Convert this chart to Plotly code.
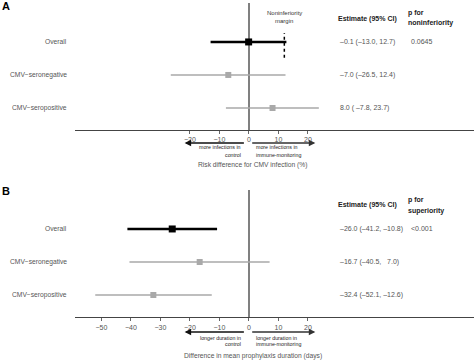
import plotly.graph_objects as go

# ---------------- data ----------------
rows = ["Overall", "CMV\u2212seronegative", "CMV\u2212seropositive"]
row_pos = [3, 2, 1]

a_est = [-0.1, -7.0, 8.0]
a_lo = [-13.0, -26.5, -7.8]
a_hi = [12.7, 12.4, 23.7]
a_text = ["\u20130.1 (\u201313.0, 12.7)", "\u20137.0 (\u201326.5, 12.4)", "8.0 ( \u20137.8, 23.7)"]
a_p = ["0.0645", "", ""]
a_ticks = [-20, -10, 0, 10, 20]
ni_margin = 12.0

b_est = [-26.0, -16.7, -32.4]
b_lo = [-41.2, -40.5, -52.1]
b_hi = [-10.8, 7.0, -12.6]
b_text = ["\u201326.0 (\u201341.2, \u201310.8)", "\u201316.7 (\u201340.5,   7.0)", "\u201332.4 (\u201352.1, \u201312.6)"]
b_p = ["<0.001", "", ""]
b_ticks = [-50, -40, -30, -20, -10, 0, 10, 20]

FONT = "Liberation Sans, Arial, sans-serif"
GRAY = "#a9a9a9"
TXT = "#555555"

fig = go.Figure()

def add_panel(xa, ya, est, lo, hi):
    for i in range(len(est)):
        col = "black" if i == 0 else GRAY
        w = 2.5 if i == 0 else 1.6
        fig.add_trace(go.Scatter(x=[lo[i], hi[i]], y=[row_pos[i], row_pos[i]], mode="lines",
                                 line=dict(color=col, width=w), xaxis=xa, yaxis=ya,
                                 showlegend=False, hoverinfo="skip"))
        fig.add_trace(go.Scatter(x=[est[i]], y=[row_pos[i]], mode="markers",
                                 marker=dict(symbol="square", size=7 if i == 0 else 6, color=col),
                                 xaxis=xa, yaxis=ya, showlegend=False))

add_panel("x", "y", a_est, a_lo, a_hi)
add_panel("x2", "y2", b_est, b_lo, b_hi)

xrange = [-59, 76.3]
axis_common = dict(range=xrange, domain=[0.158, 1.0], showgrid=False, zeroline=True,
                   zerolinecolor="#808080", zerolinewidth=1.5, showline=True,
                   linecolor="#444444", linewidth=1.2, ticks="outside", ticklen=3,
                   tickcolor="#666666", tickfont=dict(size=7, color=TXT, family=FONT))
fig.update_layout(
    xaxis=dict(axis_common, tickvals=a_ticks, anchor="y"),
    xaxis2=dict(axis_common, tickvals=b_ticks, anchor="y2"),
    yaxis=dict(domain=[0.6389, 0.9917], range=[0.333, 4.18], visible=False),
    yaxis2=dict(domain=[0.1194, 0.4722], range=[0.333, 4.18], visible=False),
)

# noninferiority margin
fig.add_shape(type="line", xref="x", yref="y", x0=ni_margin, x1=ni_margin, y0=2.52, y1=3.27,
              line=dict(color="black", width=1.5, dash="3px,3px"))

ann = []
def txt(x, y, s, size=7, xanchor="left", xref="paper", yref="paper", bold=False, color=TXT):
    ann.append(dict(x=x, y=y, xref=xref, yref=yref, text=("<b>%s</b>" % s) if bold else s,
                    showarrow=False, xanchor=xanchor, yanchor="middle",
                    font=dict(size=size, color=color, family=FONT)))

H = 360.0
def py(p):
    return (H - p) / H

# row labels & estimates
for ya, texts, ps in (("y", a_text, a_p), ("y2", b_text, b_p)):
    for i, r in enumerate(rows):
        txt(69 / 474, row_pos[i], r, size=6.7, xanchor="right", yref=ya)
        txt(338 / 474, row_pos[i], texts[i], size=7, yref=ya)
        if ps[i]:
            txt(409 / 474, row_pos[i], ps[i], size=7, yref=ya)

# headers
txt(336 / 474, py(19), "Estimate (95% CI)", size=7, bold=True, color="#222")
txt(406 / 474, py(13), "p for", size=7, bold=True, color="#222")
txt(406 / 474, py(23), "noninferiority", size=7, bold=True, color="#222")
txt(336 / 474, py(205), "Estimate (95% CI)", size=7, bold=True, color="#222")
txt(406 / 474, py(200), "p for", size=7, bold=True, color="#222")
txt(406 / 474, py(211), "superiority", size=7, bold=True, color="#222")

# noninferiority label
txt(284 / 474, py(13), "Noninferiority", size=6, xanchor="center", color="#333")
txt(284 / 474, py(21), "margin", size=6, xanchor="center", color="#333")

# panel letters
txt(0, py(6), "A", size=11, bold=True, color="black")
txt(0, py(191), "B", size=11, bold=True, color="black")

# arrow labels and axis titles
txt(243 / 474, py(147), "more infections in", size=5.3, xanchor="right", color="#222")
txt(243 / 474, py(155), "control", size=5.3, xanchor="right", color="#222")
txt(254 / 474, py(147), "more infections in", size=5.3, color="#222")
txt(254 / 474, py(155), "immune-monitoring", size=5.3, color="#222")
txt(253 / 474, py(165), "Risk difference for CMV infection (%)", size=6.7, xanchor="center")

txt(243 / 474, py(338), "longer duration in", size=5.3, xanchor="right", color="#222")
txt(243 / 474, py(344), "control", size=5.3, xanchor="right", color="#222")
txt(254 / 474, py(338), "longer duration in", size=5.3, color="#222")
txt(254 / 474, py(344), "immune-monitoring", size=5.3, color="#222")
txt(253 / 474, py(356), "Difference in mean prophylaxis duration (days)", size=6.7, xanchor="center")

# arrows
for xr, yy in (("x", py(143)), ("x2", py(332))):
    ann.append(dict(x=-21.8, y=yy, xref=xr, yref="paper", ax=-1.2, ay=0, axref=xr, ayref="pixel",
                    showarrow=True, arrowhead=2, arrowsize=1, arrowwidth=1.3, arrowcolor="#111", text=""))
    ann.append(dict(x=22.5, y=yy, xref=xr, yref="paper", ax=0.6, ay=0, axref=xr, ayref="pixel",
                    showarrow=True, arrowhead=2, arrowsize=1, arrowwidth=1.3, arrowcolor="#333", text=""))

fig.update_layout(annotations=ann, width=474, height=360,
                  margin=dict(l=0, r=0, t=0, b=0),
                  plot_bgcolor="white", paper_bgcolor="white",
                  font=dict(family=FONT))
fig.write_html("out.html", config={"displayModeBar": False},
               post_script="document.body.style.margin='0';document.body.style.overflow='hidden';")
